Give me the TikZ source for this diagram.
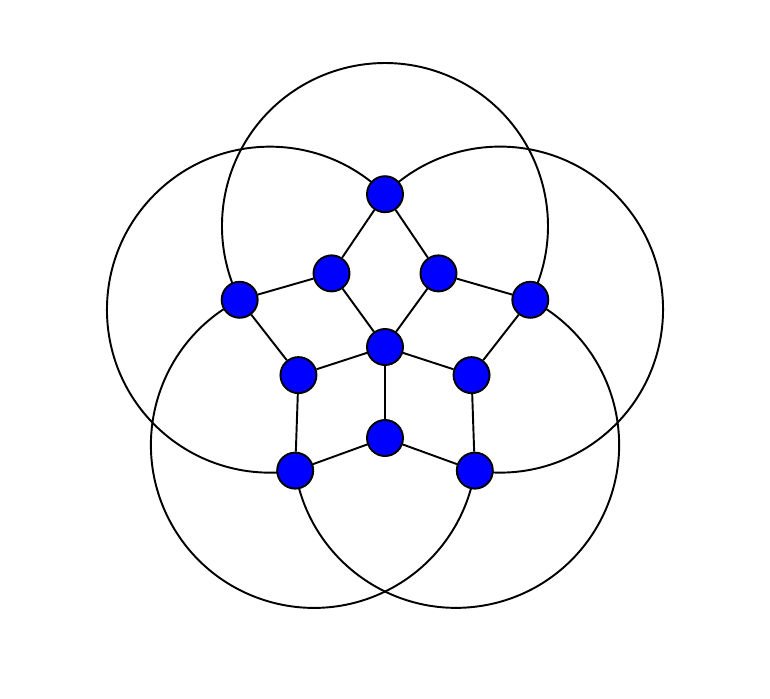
\documentclass[tikz,border=0pt]{standalone}
\usepackage{tikz}
\usetikzlibrary{calc}

\tikzset{
  vertex/.style={circle,draw=black,fill=blue,line width=1.1pt,minimum size=0.72cm,inner sep=0pt},
  ring/.style={line width=1.1pt},
  edge/.style={line width=1.1pt}
}

\begin{document}
\begin{tikzpicture}[x=0.02cm,y=0.02cm]
    \def\rad{163}
    \def\outr{152.8}
    \def\inr{91}
    \def\half{116.9}

    \useasboundingbox (-385,-351) rectangle (385,347);

    % outer arcs, each one from an outer vertex to the next but one
    \draw[ring] (18:\outr) arc[start angle=90-\half, end angle=90+\half, radius=\rad];
    \draw[ring] (90:\outr) arc[start angle=162-\half, end angle=162+\half, radius=\rad];
    \draw[ring] (162:\outr) arc[start angle=234-\half, end angle=234+\half, radius=\rad];
    \draw[ring] (234:\outr) arc[start angle=306-\half, end angle=306+\half, radius=\rad];
    \draw[ring] (306:\outr) arc[start angle=378-\half, end angle=378+\half, radius=\rad];

    \node[vertex] (c) at (0,0) {};

    \node[vertex] (o1) at (90:\outr) {};
    \node[vertex] (o2) at (162:\outr) {};
    \node[vertex] (o3) at (234:\outr) {};
    \node[vertex] (o4) at (306:\outr) {};
    \node[vertex] (o5) at (18:\outr) {};

    \node[vertex] (i1) at (126:\inr) {};
    \node[vertex] (i2) at (198:\inr) {};
    \node[vertex] (i3) at (270:\inr) {};
    \node[vertex] (i4) at (342:\inr) {};
    \node[vertex] (i5) at (54:\inr) {};

    \draw[edge] (o1) -- (i1);
    \draw[edge] (o1) -- (i5);
    \draw[edge] (o2) -- (i1);
    \draw[edge] (o2) -- (i2);
    \draw[edge] (o3) -- (i2);
    \draw[edge] (o3) -- (i3);
    \draw[edge] (o4) -- (i3);
    \draw[edge] (o4) -- (i4);
    \draw[edge] (o5) -- (i4);
    \draw[edge] (o5) -- (i5);

    \draw[edge] (c) -- (i1);
    \draw[edge] (c) -- (i2);
    \draw[edge] (c) -- (i3);
    \draw[edge] (c) -- (i4);
    \draw[edge] (c) -- (i5);
  \end{tikzpicture}
\end{document}
